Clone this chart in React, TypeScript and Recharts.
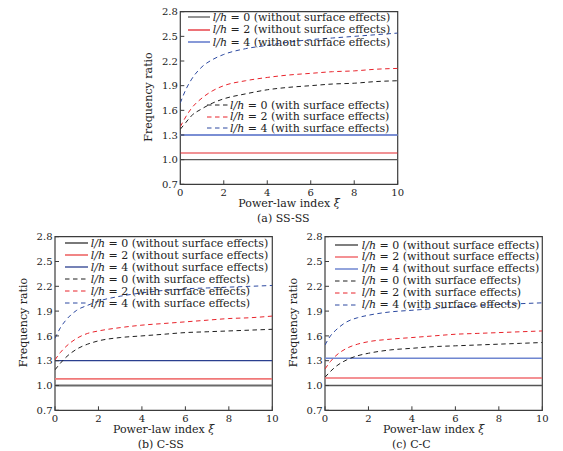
import React from 'react';
import { LineChart, Line, XAxis, YAxis, ReferenceArea, Legend } from 'recharts';

// ---------- data ----------
const XI = [0, 0.25, 0.5, 1, 1.5, 2, 3, 4, 5, 6, 7, 8, 9, 10];
const X_TICKS = [0, 2, 4, 6, 8, 10];
const Y_TICKS = [0.7, 1.0, 1.3, 1.6, 1.9, 2.2, 2.5, 2.8];
const LH_VALUES = [0, 2, 4];

// (a) SS-SS
const SSSS_WITHOUT = [1.0, 1.08, 1.3];
const SSSS_WITH_0 = [1.37, 1.45, 1.53, 1.62, 1.69, 1.74, 1.8, 1.85, 1.88, 1.9, 1.92, 1.93, 1.95, 1.96];
const SSSS_WITH_2 = [1.4, 1.52, 1.62, 1.75, 1.84, 1.9, 1.96, 2.0, 2.03, 2.05, 2.07, 2.08, 2.1, 2.11];
const SSSS_WITH_4 = [1.69, 1.85, 1.97, 2.13, 2.22, 2.28, 2.35, 2.39, 2.43, 2.46, 2.48, 2.5, 2.52, 2.54];

// (b) C-SS
const CSS_WITHOUT = [1.0, 1.08, 1.3];
const CSS_WITH_0 = [1.19, 1.27, 1.34, 1.44, 1.5, 1.54, 1.58, 1.6, 1.62, 1.64, 1.65, 1.66, 1.67, 1.68];
const CSS_WITH_2 = [1.31, 1.4, 1.47, 1.57, 1.63, 1.66, 1.7, 1.73, 1.75, 1.77, 1.79, 1.81, 1.82, 1.84];
const CSS_WITH_4 = [1.57, 1.7, 1.79, 1.91, 1.97, 2.02, 2.08, 2.12, 2.15, 2.17, 2.18, 2.19, 2.2, 2.21];

// (c) C-C
const CC_WITHOUT = [1.0, 1.09, 1.33];
const CC_WITH_0 = [1.1, 1.17, 1.23, 1.31, 1.36, 1.39, 1.43, 1.45, 1.47, 1.48, 1.49, 1.5, 1.51, 1.52];
const CC_WITH_2 = [1.2, 1.29, 1.36, 1.45, 1.5, 1.53, 1.56, 1.58, 1.6, 1.62, 1.63, 1.64, 1.65, 1.66];
const CC_WITH_4 = [1.49, 1.6, 1.67, 1.77, 1.82, 1.85, 1.89, 1.91, 1.93, 1.95, 1.96, 1.98, 1.99, 2.0];

const SUBTITLES = ['(a) SS-SS', '(b) C-SS', '(c) C-C'];
const X_TITLE = 'Power-law index ';
const Y_TITLE = 'Frequency ratio';

function buildRows(without: number[], w0: number[], w2: number[], w4: number[]) {
  return XI.map((xi, i) => ({
    xi,
    n0: without[0],
    n2: without[1],
    n4: without[2],
    s0: w0[i],
    s2: w2[i],
    s4: w4[i],
  }));
}

// ---------- styles ----------
const FONT = '"DejaVu Serif", serif';
const TEXT = '#222';
const FRAME = '#3c3c3c';
const YW = 40;
const XH = 40;
const DASH = '4.5 3.5';

type SeriesDef = { key: string; lh: number; kind: 'without' | 'with'; color: string; width: number };

function makeSeries(solidColors: string[], solidWidths: number[]): SeriesDef[] {
  const dashed = ['#1e1e1e', '#e8232b', '#2c49a0'];
  const out: SeriesDef[] = [];
  LH_VALUES.forEach((lh, i) =>
    out.push({ key: 'n' + lh, lh, kind: 'without', color: solidColors[i], width: solidWidths[i] })
  );
  LH_VALUES.forEach((lh, i) =>
    out.push({ key: 's' + lh, lh, kind: 'with', color: dashed[i], width: 1 })
  );
  return out;
}

function seriesName(s: SeriesDef) {
  return `l/h = ${s.lh} (${s.kind} surface effects)`;
}

const XTick = (props: any) => {
  const { x, y, payload } = props;
  return (
    <g>
      <line x1={x} y1={y} x2={x} y2={y - 4} stroke={FRAME} strokeWidth={1} />
      <text x={x} y={y + 12} textAnchor="middle" fontSize={10} fontFamily={FONT} fill={TEXT}>
        {payload.value}
      </text>
    </g>
  );
};

const YTick = (props: any) => {
  const { x, y, payload } = props;
  return (
    <g>
      <line x1={x} y1={y} x2={x + 4} y2={y} stroke={FRAME} strokeWidth={1} />
      <text x={x - 2.5} y={y + 3.6} textAnchor="end" fontSize={10} fontFamily={FONT} fill={TEXT}>
        {Number(payload.value).toFixed(1)}
      </text>
    </g>
  );
};

const makeXLabel = (subtitle: string, subDx: number) => (props: any) => {
  const vb = props.viewBox;
  const cx = vb.x + vb.width / 2;
  return (
    <g>
      <text x={cx} y={vb.y + 23} textAnchor="middle" fontSize={11} fontFamily={FONT} fill={TEXT}>
        {X_TITLE}
        <tspan fontStyle="italic">ξ</tspan>
      </text>
      <text x={vb.x + subDx} y={vb.y + 37.5} textAnchor="middle" fontSize={11} fontFamily={FONT} fill={TEXT}>
        {subtitle}
      </text>
    </g>
  );
};

const yLabel = (props: any) => {
  const vb = props.viewBox;
  const cx = vb.x + vb.width - 32;
  const cy = vb.y + vb.height / 2 - 1;
  return (
    <text
      x={cx}
      y={cy}
      transform={`rotate(-90, ${cx}, ${cy})`}
      textAnchor="middle"
      dominantBaseline="central"
      fontSize={11}
      fontFamily={FONT}
      fill={TEXT}
    >
      {Y_TITLE}
    </text>
  );
};

type LegendGroup = { sx: number; tx: number; y0: number; dy: number; len: number; keys: string[] };

function LegendOverlay({ W, H, groups, series }: { W: number; H: number; groups: LegendGroup[]; series: SeriesDef[] }) {
  return (
    <div style={{ position: 'relative', width: W, height: H, pointerEvents: 'none' }}>
      {groups.map((g, gi) =>
        g.keys.map((k, i) => {
          const s = series.find((d) => d.key === k)!;
          const cy = g.y0 + i * g.dy;
          return (
            <React.Fragment key={gi + '-' + k}>
              <svg
                width={g.len}
                height={6}
                style={{ position: 'absolute', left: g.sx, top: cy - 3, overflow: 'visible' }}
              >
                <line
                  x1={0}
                  y1={3}
                  x2={g.len}
                  y2={3}
                  stroke={s.color}
                  strokeWidth={s.kind === 'with' ? 1 : Math.max(1.3, s.width)}
                  strokeDasharray={s.kind === 'with' ? DASH : undefined}
                />
              </svg>
              <span
                style={{
                  position: 'absolute',
                  left: g.tx,
                  top: cy - 5.5,
                  height: 11,
                  lineHeight: '11px',
                  fontSize: 11,
                  fontFamily: FONT,
                  color: TEXT,
                  whiteSpace: 'nowrap',
                }}
              >
                <span style={{ fontStyle: 'italic' }}>l/h</span>
                {` = ${s.lh} (${s.kind} surface effects)`}
              </span>
            </React.Fragment>
          );
        })
      )}
    </div>
  );
}

type PanelProps = {
  left: number;
  top: number;
  W: number;
  H: number;
  pl: number;
  pt: number;
  pw: number;
  ph: number;
  rows: any[];
  series: SeriesDef[];
  subtitle: string;
  subDx: number;
  groups: LegendGroup[];
};

function Panel(p: PanelProps) {
  const margin = { top: p.pt, left: p.pl - YW, right: p.W - p.pl - p.pw, bottom: p.H - p.pt - p.ph - XH };
  return (
    <div style={{ position: 'absolute', left: p.left, top: p.top, width: p.W, height: p.H }}>
      <LineChart width={p.W} height={p.H} data={p.rows} margin={margin}>
        <XAxis
          dataKey="xi"
          type="number"
          domain={[0, 10]}
          ticks={X_TICKS}
          interval={0}
          height={XH}
          axisLine={false}
          tickLine={false}
          tickSize={0}
          tickMargin={0}
          tick={<XTick />}
          label={{ content: makeXLabel(p.subtitle, p.subDx) }}
          allowDataOverflow
        />
        <YAxis
          type="number"
          domain={[0.7, 2.8]}
          ticks={Y_TICKS}
          interval={0}
          width={YW}
          axisLine={false}
          tickLine={false}
          tickSize={0}
          tickMargin={0}
          tick={<YTick />}
          label={{ content: yLabel }}
          allowDataOverflow
        />
        {p.series.map((s) => (
          <Line
            key={s.key}
            dataKey={s.key}
            name={seriesName(s)}
            type={s.kind === 'with' ? 'monotone' : 'linear'}
            stroke={s.color}
            strokeWidth={s.width}
            strokeDasharray={s.kind === 'with' ? DASH : undefined}
            dot={false}
            activeDot={false}
            isAnimationActive={false}
          />
        ))}
        <ReferenceArea
          x1={0}
          x2={10}
          y1={0.7}
          y2={2.8}
          fill="none"
          fillOpacity={0}
          stroke={FRAME}
          strokeWidth={1.2}
          ifOverflow="visible"
        />
        <Legend
          layout="vertical"
          align="center"
          verticalAlign="middle"
          wrapperStyle={{ left: 0, top: 0, width: p.W, height: p.H, margin: 0 }}
          content={() => <LegendOverlay W={p.W} H={p.H} groups={p.groups} series={p.series} />}
        />
      </LineChart>
    </div>
  );
}

const SERIES_A = makeSeries(['#5a5a5a', '#e3262d', '#7a8ed4'], [1.2, 1.1, 1.8]);
const SERIES_B = makeSeries(['#6a6a6a', '#f07878', '#2a3f8f'], [1.8, 1.8, 1.2]);
const SERIES_C = makeSeries(['#555555', '#f06c70', '#6f86d0'], [1.5, 1.5, 1.5]);

const ROWS_A = buildRows(SSSS_WITHOUT, SSSS_WITH_0, SSSS_WITH_2, SSSS_WITH_4);
const ROWS_B = buildRows(CSS_WITHOUT, CSS_WITH_0, CSS_WITH_2, CSS_WITH_4);
const ROWS_C = buildRows(CC_WITHOUT, CC_WITH_0, CC_WITH_2, CC_WITH_4);

export default function App() {
  return (
    <div style={{ position: 'absolute', left: 0, top: 0, width: 563, height: 451, background: '#fff', overflow: 'hidden' }}>
      <Panel
        left={130}
        top={0}
        W={280}
        H={228}
        pl={50.3}
        pt={11.7}
        pw={217.4}
        ph={172.6}
        rows={ROWS_A}
        series={SERIES_A}
        subtitle={SUBTITLES[0]}
        subDx={103}
        groups={[
          { sx: 58, tx: 82.7, y0: 17.3, dy: 12.35, len: 22, keys: ['n0', 'n2', 'n4'] },
          { sx: 76.7, tx: 100, y0: 105.3, dy: 11.35, len: 22, keys: ['s0', 's2', 's4'] },
        ]}
      />
      <Panel
        left={0}
        top={228}
        W={285}
        H={223}
        pl={55}
        pt={8.7}
        pw={217.3}
        ph={173.6}
        rows={ROWS_B}
        series={SERIES_B}
        subtitle={SUBTITLES[1]}
        subDx={105.8}
        groups={[{ sx: 65, tx: 90.7, y0: 15.3, dy: 11.95, len: 23, keys: ['n0', 'n2', 'n4', 's0', 's2', 's4'] }]}
      />
      <Panel
        left={280}
        top={228}
        W={283}
        H={223}
        pl={45}
        pt={8.7}
        pw={217.3}
        ph={173.6}
        rows={ROWS_C}
        series={SERIES_C}
        subtitle={SUBTITLES[2]}
        subDx={86.3}
        groups={[{ sx: 55, tx: 81.7, y0: 17, dy: 11.9, len: 23, keys: ['n0', 'n2', 'n4', 's0', 's2', 's4'] }]}
      />
    </div>
  );
}
